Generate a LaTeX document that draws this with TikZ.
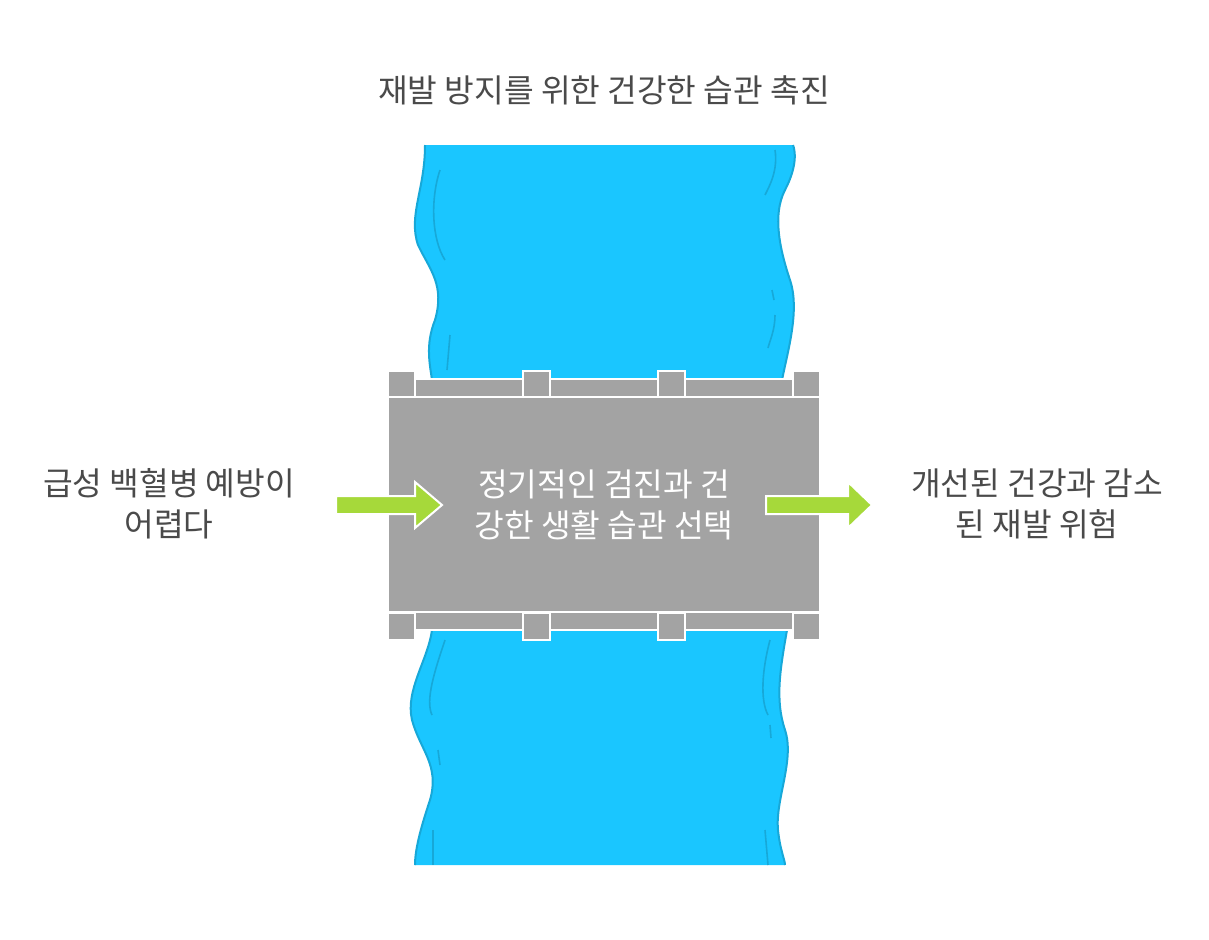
\documentclass[tikz,border=0pt]{standalone}
\usepackage{fontspec}
\setmainfont{Noto Sans CJK KR}
\begin{document}
\begin{tikzpicture}[x=0.75pt,y=-0.75pt,
  edge/.style={draw=rivd,line width=1.5pt},
  ripple/.style={draw=rivd,line width=1.2pt},
  deck/.style={fill=gry,draw=white,line width=1.5pt},
  arr/.style={fill=grn,draw=white,line width=1.5pt},
  lbl/.style={font=\fontsize{24.2}{31}\selectfont,text=txt,align=center}]
\definecolor{riv}{HTML}{1AC6FF}\definecolor{rivd}{HTML}{17A8D8}
\definecolor{gry}{HTML}{A3A3A3}\definecolor{grn}{HTML}{A6D93A}\definecolor{txt}{HTML}{4A4A4A}
\useasboundingbox (0,0) rectangle (1209,939);
% top river
\def\tl{(425,145) .. controls (425,190) and (408,215) .. (418,245) .. controls (430,270) and (445,285) .. (435,320) .. controls (425,345) and (430,365) .. (432,380)}
\def\tr{(782,380) .. controls (788,350) and (800,310) .. (790,280) .. controls (780,250) and (772,215) .. (785,190) .. controls (798,165) and (795,150) .. (793,145)}
\fill[riv] \tl -- \tr -- cycle;
\draw[edge] \tl; \draw[edge] \tr;
\draw[ripple] (440,170) .. controls (430,200) and (432,240) .. (445,260);
\draw[ripple] (450,335) -- (447,370);
\draw[ripple] (775,150) .. controls (778,170) and (770,185) .. (765,195);
\draw[ripple] (772,290) -- (774,300);
\draw[ripple] (775,315) .. controls (775,330) and (770,340) .. (768,348);
% bottom river
\def\bl{(432,630) .. controls (428,660) and (405,690) .. (412,720) .. controls (420,750) and (440,765) .. (430,800) .. controls (420,830) and (415,850) .. (415,865)}
\def\br{(785,865) .. controls (785,860) and (780,850) .. (778,830) .. controls (775,800) and (795,760) .. (785,730) .. controls (775,700) and (780,670) .. (787,630)}
\fill[riv] \bl -- \br -- cycle;
\draw[edge] \bl; \draw[edge] \br;
\draw[ripple] (445,640) .. controls (435,670) and (425,700) .. (432,715);
\draw[ripple] (438,750) -- (440,765);
\draw[ripple] (433,830) -- (433,865);
\draw[ripple] (770,640) .. controls (762,670) and (760,700) .. (768,715);
\draw[ripple] (770,725) -- (771,738);
\draw[ripple] (765,830) -- (768,865);
% bridge
\node[deck,minimum width=378*0.75pt,minimum height=18*0.75pt,inner sep=0] (rt) at (604,388) {};
\node[deck,minimum width=378*0.75pt,minimum height=18*0.75pt,inner sep=0] (rb) at (604,621) {};
\foreach \x [count=\i] in {401.5,536.5,671.5,806.5}{
  \node[deck,minimum width=27*0.75pt,minimum height=27*0.75pt,inner sep=0] (st\i) at (\x,384) {};
  \node[deck,minimum width=27*0.75pt,minimum height=27*0.75pt,inner sep=0] (sb\i) at (\x,626) {};}
\node[deck,minimum width=432*0.75pt,minimum height=215*0.75pt,inner sep=0] (deck) at (604,504.5) {};
\node[lbl,text=white] (mid) at (604,505) {정기적인 검진과 건\\강한 생활 습관 선택};
% arrows
\path[arr] (336,496) -- (415,496) -- (415,482) -- (442,505) -- (415,528) -- (415,514) -- (336,514) -- cycle;
\path[arr] (766,496) -- (848,496) -- (848,482) -- (872,505) -- (848,528) -- (848,514) -- (766,514) -- cycle;
\node[lbl] (top) at (604,90) {재발 방지를 위한 건강한 습관 촉진};
\node[lbl] (left) at (169,504) {급성 백혈병 예방이\\어렵다};
\node[lbl] (right) at (1037,504) {개선된 건강과 감소\\된 재발 위험};
\end{tikzpicture}
\end{document}
